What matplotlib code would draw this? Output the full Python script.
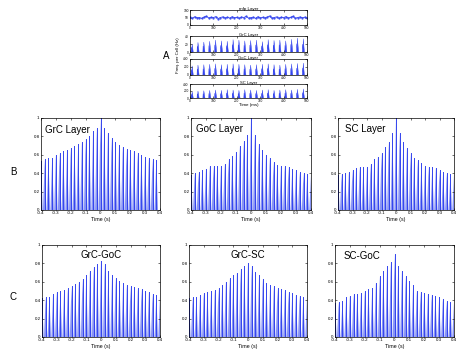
import numpy as np
import matplotlib
matplotlib.use('Agg')
import matplotlib.pyplot as plt

plt.rcParams['font.family'] = ['Liberation Sans', 'DejaVu Sans']

# lag axis of the correlograms (s), one peak per bin
lags = np.linspace(-0.4, 0.4, 33)

grc_auto = [0.53, 0.55, 0.56, 0.57, 0.60, 0.62, 0.64, 0.65, 0.67, 0.70, 0.72, 0.74, 0.77, 0.80, 0.86, 0.89,
            1.00,
            0.89, 0.84, 0.78, 0.74, 0.71, 0.69, 0.66, 0.65, 0.64, 0.62, 0.60, 0.58, 0.56, 0.55, 0.54]
goc_auto = [0.38, 0.40, 0.41, 0.43, 0.45, 0.48, 0.48, 0.48, 0.48, 0.50, 0.55, 0.59, 0.63, 0.70, 0.75, 0.82,
            1.00,
            0.82, 0.72, 0.65, 0.60, 0.57, 0.52, 0.49, 0.48, 0.48, 0.47, 0.45, 0.43, 0.41, 0.40, 0.39, 0.38]
sc_auto = [0.38, 0.39, 0.40, 0.41, 0.44, 0.46, 0.47, 0.47, 0.47, 0.50, 0.55, 0.58, 0.62, 0.68, 0.74, 0.84,
           1.00,
           0.84, 0.74, 0.67, 0.62, 0.57, 0.54, 0.51, 0.48, 0.47, 0.47, 0.46, 0.43, 0.41, 0.40, 0.39, 0.38]
grc_goc = [0.42, 0.43, 0.44, 0.47, 0.49, 0.50, 0.51, 0.53, 0.55, 0.58, 0.60, 0.63, 0.67, 0.72, 0.76, 0.79,
           0.84,
           0.79, 0.72, 0.67, 0.64, 0.61, 0.59, 0.57, 0.55, 0.54, 0.53, 0.52, 0.50, 0.49, 0.47, 0.46, 0.44]
grc_sc = [0.42, 0.43, 0.44, 0.46, 0.48, 0.49, 0.50, 0.51, 0.53, 0.57, 0.60, 0.64, 0.67, 0.70, 0.74, 0.77,
          0.80,
          0.77, 0.71, 0.67, 0.63, 0.59, 0.57, 0.55, 0.53, 0.52, 0.51, 0.49, 0.48, 0.46, 0.45, 0.44, 0.43]
sc_goc = [0.37, 0.38, 0.39, 0.43, 0.45, 0.47, 0.47, 0.48, 0.50, 0.52, 0.53, 0.59, 0.66, 0.72, 0.77, 0.81,
          0.90,
          0.77, 0.72, 0.66, 0.61, 0.56, 0.50, 0.49, 0.48, 0.47, 0.46, 0.45, 0.43, 0.41, 0.39, 0.38, 0.37]

# panel A: population rates over 500 ms
mfp_t = np.linspace(0, 500, 51)
mfp_rate = [52, 45, 55, 48, 50, 44, 53, 58, 47, 51, 49, 56, 43, 50, 54, 47, 52, 46, 55, 49,
            51, 45, 53, 50, 57, 46, 49, 52, 44, 55, 48, 51, 47, 53, 60, 46, 50, 54, 45, 52,
            49, 56, 47, 51, 58, 45, 50, 53, 48, 52, 50]
burst_t = np.linspace(5, 480, 20)
grc_burst = [20, 24, 25, 27, 30, 28, 27, 31, 30, 28, 29, 30, 26, 31, 29, 30, 28, 32, 35, 33]
goc_burst = [230, 250, 260, 270, 280, 260, 270, 280, 270, 260, 250, 260, 270, 280, 260, 250, 270, 280, 290, 300]
sc_burst = [180, 200, 210, 220, 230, 220, 240, 230, 220, 240, 230, 220, 230, 240, 220, 230, 240, 230, 250, 260]

W, H = 474, 364
blue = '#3344ee'
fig = plt.figure(figsize=(W / 100, H / 100), dpi=100)


def px_axes(x0, y0, x1, y1):
    return fig.add_axes([x0 / W, 1 - y1 / H, (x1 - x0) / W, (y1 - y0) / H])


def style(ax, fs=3.2):
    ax.tick_params(direction='in', top=True, right=True, length=1.5, width=0.4,
                   labelsize=fs, pad=1)
    for s in ax.spines.values():
        s.set_linewidth(0.5)


def correlogram(ax, vals, title, tx, ty, ha='left'):
    half = 0.0115
    for t, h in zip(lags, vals):
        ax.fill([t - half, t, t + half], [0, h, 0], color='#5566f0', alpha=0.7, lw=0)
        ax.plot([t, t], [0, h], color=blue, lw=0.7)
    ax.set_xlim(-0.4, 0.4)
    ax.set_ylim(0, 1)
    ax.set_xticks(np.round(np.arange(-0.4, 0.41, 0.1), 1))
    ax.set_xticklabels(['-0.4', '-0.3', '-0.2', '-0.1', '0', '0.1', '0.2', '0.3', '0.4'])
    ax.set_yticks([0, 0.2, 0.4, 0.6, 0.8, 1])
    ax.set_yticklabels(['0', '0.2', '0.4', '0.6', '0.8', '1'])
    ax.set_xlabel('Time (s)', fontsize=3.8, labelpad=1)
    style(ax)
    ax.text(tx, ty, title, fontsize=7, ha=ha, va='center',
            bbox=dict(facecolor='white', edgecolor='none', pad=0.5))


# row B
axb = [px_axes(41, 118, 160, 210), px_axes(191, 118, 311, 210), px_axes(338, 118, 454, 210)]
correlogram(axb[0], grc_auto, 'GrC Layer', -0.37, 0.87)
correlogram(axb[1], goc_auto, 'GoC Layer', -0.37, 0.88)
correlogram(axb[2], sc_auto, 'SC Layer', -0.35, 0.88)

# row C
axc = [px_axes(42, 245, 160, 337), px_axes(189, 245, 307, 337), px_axes(335, 245, 454, 337)]
correlogram(axc[0], grc_goc, 'GrC-GoC', 0.0, 0.89, ha='center')
correlogram(axc[1], grc_sc, 'GrC-SC', 0.0, 0.89, ha='center')
correlogram(axc[2], sc_goc, 'SC-GoC', -0.22, 0.88, ha='center')

# panel A
rows = [(10, 25), (36, 52), (59, 75), (84, 98)]
axa = [px_axes(190, y0, 307, y1) for y0, y1 in rows]
axa[0].plot(mfp_t, mfp_rate, color=blue, lw=0.6, marker='.', ms=1.2)
axa[0].set_ylim(0, 100)
axa[0].set_yticks([0, 50, 100])
axa[0].set_title('mfp Layer', fontsize=3.2, pad=0.3)
for ax, vals, top, name in [(axa[1], grc_burst, 40, 'GrC Layer'),
                            (axa[2], goc_burst, 400, 'GoC Layer'),
                            (axa[3], sc_burst, 400, 'SC Layer')]:
    for t, h in zip(burst_t, vals):
        ax.fill([t, t + 1, t + 3, t + 4, t + 9], [0, h * 0.6, 0.25 * h, h, 0], color=blue, lw=0.3)
    ax.set_ylim(0, top)
    ax.set_yticks([0, top / 2, top])
    ax.set_title(name, fontsize=3.0, pad=0.2)
for ax in axa:
    ax.set_xlim(0, 500)
    ax.set_xticks([0, 100, 200, 300, 400, 500])
    style(ax, fs=2.3)
    ax.tick_params(axis='x', pad=0.5)
axa[3].set_xlabel('Time (ms)', fontsize=3.2, labelpad=0.5)
fig.text(178 / W, 1 - 55 / H, 'Freq. per Cell (Hz)', fontsize=3.2, rotation=90, ha='center', va='center')

fig.text(166 / W, 1 - 56 / H, 'A', fontsize=7, ha='center', va='center')
fig.text(13 / W, 1 - 172 / H, 'B', fontsize=7, ha='center', va='center')
fig.text(13 / W, 1 - 297 / H, 'C', fontsize=7, ha='center', va='center')

fig.savefig('out.png', dpi=100)
